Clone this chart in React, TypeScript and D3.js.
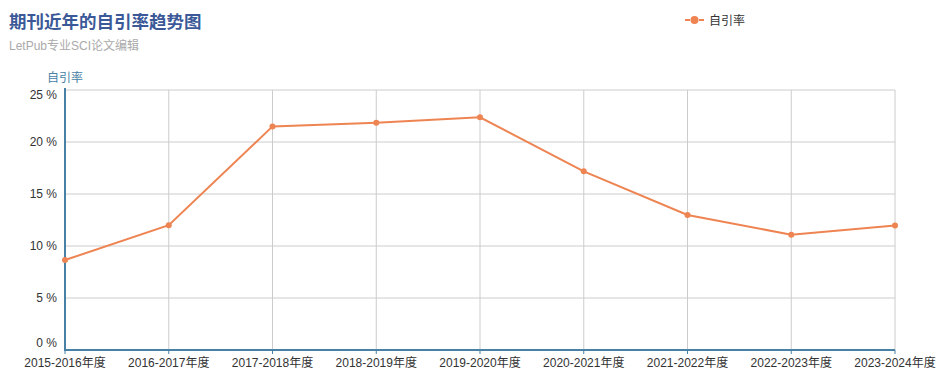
import React from "react";
import * as d3 from "d3";

const categories = [
  "2015-2016年度",
  "2016-2017年度",
  "2017-2018年度",
  "2018-2019年度",
  "2019-2020年度",
  "2020-2021年度",
  "2021-2022年度",
  "2022-2023年度",
  "2023-2024年度",
];
const selfCiteRate = [8.65, 12.0, 21.5, 21.86, 22.37, 17.18, 12.98, 11.09, 11.96];
const yTicks = [0, 5, 10, 15, 20, 25];

const W = 944;
const H = 387;
const M = { left: 65, right: 49, top: 90, bottom: 37 };
const FONT = "'Liberation Sans', 'Noto Sans CJK SC', sans-serif";
const LINE = "#ee8452";
const AXIS = "#4781a6";

export default function App() {
  const x = d3
    .scalePoint<string>()
    .domain(categories)
    .range([M.left, W - M.right]);
  const y = d3.scaleLinear().domain([0, 25]).range([H - M.bottom, M.top]);
  const line = d3
    .line<number>()
    .x((_, i) => x(categories[i]) as number)
    .y((d) => y(d));

  return (
    <svg
      width={W}
      height={H}
      style={{ position: "absolute", left: 0, top: 0, fontFamily: FONT }}
    >
      <rect width={W} height={H} fill="#fff" />
      <text x={9} y={28} fontSize={17.5} fontWeight="bold" fill="#3b5998">
        期刊近年的自引率趋势图
      </text>
      <text x={9} y={50} fontSize={12} fill="#aaa">
        LetPub专业SCI论文编辑
      </text>

      {/* legend */}
      <g>
        <line x1={685} x2={704} y1={20} y2={20} stroke={LINE} strokeWidth={2} />
        <circle cx={694.5} cy={20} r={4.5} fill="#fff" />
        <circle cx={694.5} cy={20} r={4} fill={LINE} />
        <text x={709} y={24.5} fontSize={12} fill="#333">
          自引率
        </text>
      </g>

      {/* grid */}
      {yTicks.map((t) => (
        <line
          key={"gy" + t}
          x1={M.left}
          x2={W - M.right}
          y1={y(t)}
          y2={y(t)}
          stroke="#ccc"
          strokeWidth={1}
        />
      ))}
      {categories.map((c) => (
        <line
          key={"gx" + c}
          x1={x(c)}
          x2={x(c)}
          y1={M.top}
          y2={H - M.bottom}
          stroke="#ccc"
          strokeWidth={1}
        />
      ))}

      {/* axes */}
      <line
        x1={M.left}
        x2={M.left}
        y1={M.top - 2}
        y2={H - M.bottom + 1}
        stroke={AXIS}
        strokeWidth={2}
      />
      <line
        x1={M.left}
        x2={W - M.right}
        y1={H - M.bottom}
        y2={H - M.bottom}
        stroke={AXIS}
        strokeWidth={2}
      />
      {categories.map((c) => (
        <line
          key={"tk" + c}
          x1={x(c)}
          x2={x(c)}
          y1={H - M.bottom}
          y2={H - M.bottom + 4}
          stroke={AXIS}
          strokeWidth={1}
        />
      ))}
      <text x={M.left} y={82} fontSize={12} fill={AXIS} textAnchor="middle">
        自引率
      </text>

      {yTicks.map((t, i) => {
        let yy = y(t) + 4;
        if (i === 0) yy = y(t) - 3;
        if (i === yTicks.length - 1) yy = y(t) + 9;
        return (
          <text key={"yl" + t} x={57} y={yy} fontSize={12} fill="#333" textAnchor="end">
            {t} %
          </text>
        );
      })}
      {categories.map((c) => (
        <text
          key={"xl" + c}
          x={x(c)}
          y={H - M.bottom + 17}
          fontSize={12}
          fill="#333"
          textAnchor="middle"
        >
          {c}
        </text>
      ))}

      <path d={line(selfCiteRate) || ""} fill="none" stroke={LINE} strokeWidth={2} />
      {selfCiteRate.map((v, i) => (
        <circle key={"pt" + i} cx={x(categories[i])} cy={y(v)} r={3} fill={LINE} />
      ))}
    </svg>
  );
}
